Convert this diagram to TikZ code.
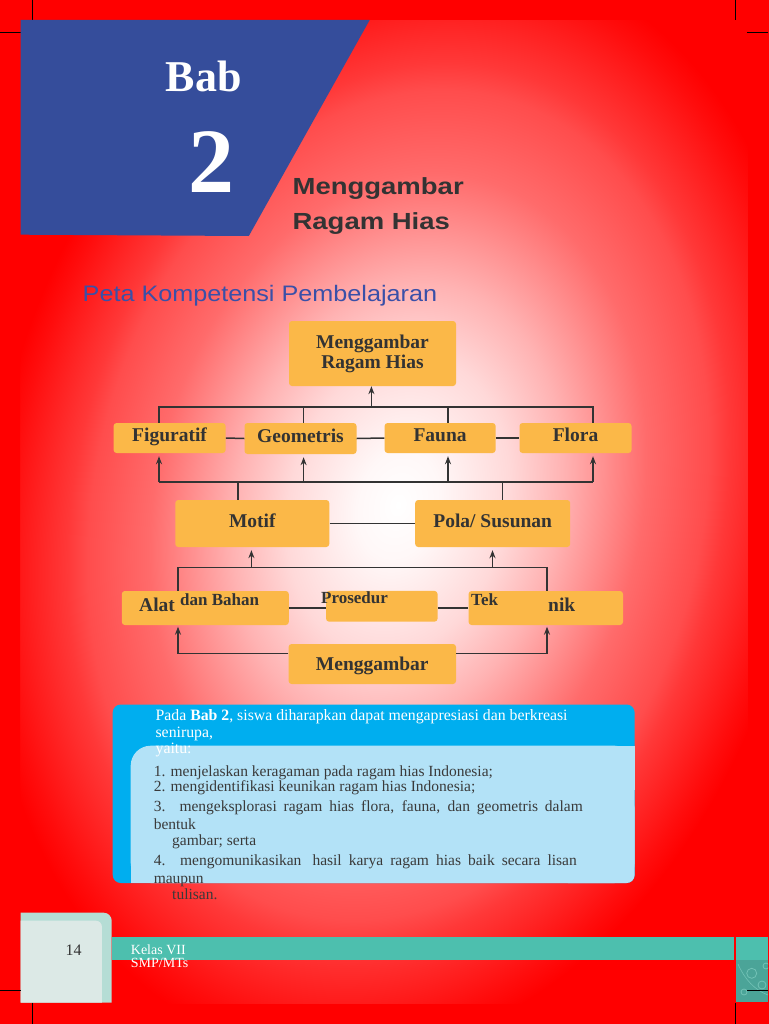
\documentclass[tikz,border=0pt]{standalone}
\usepackage{fontspec}
\setmainfont{Liberation Serif}
\newfontfamily\hsans[FakeStretch=1.125]{Liberation Sans}
\newfontfamily\tsans[FakeStretch=1.18]{Liberation Sans}
\usetikzlibrary{arrows.meta}
\definecolor{boxorange}{HTML}{FBB848}
\definecolor{txtdark}{HTML}{333333}
\definecolor{linedark}{HTML}{333333}
\definecolor{babblue}{HTML}{354D9B}
\definecolor{headblue}{HTML}{3A50A8}
\definecolor{infoblue}{HTML}{00AEEF}
\definecolor{infolight}{HTML}{B3E2F7}
\definecolor{infotext}{HTML}{3A3A3A}
\definecolor{footlight}{HTML}{DCE9E6}
\definecolor{footborder}{HTML}{B5DDD5}
\definecolor{teal}{HTML}{4DBFAE}
\definecolor{tealdark}{HTML}{4BA498}
\definecolor{tealpat}{HTML}{72C2B6}
\pgfdeclareradialshading{glow}{\pgfpoint{0bp}{0bp}}{color(0bp)=(white); color(2.5bp)=(red!3); color(6.75bp)=(red!15); color(10bp)=(red!30); color(15bp)=(red!58); color(18.75bp)=(red!70); color(20bp)=(red!78); color(23.75bp)=(red!95); color(25bp)=(red); color(50bp)=(red)}
\tikzset{
  obox/.style={fill=boxorange, rounded corners=3pt, inner sep=0pt, font=\fontsize{19.5}{20}\selectfont\bfseries, text=txtdark},
  twobox/.style={obox, align=center},
  onebox/.style={obox, text height=13pt, text depth=5.5pt},
  link/.style={draw=linedark, line width=1.5pt},
  arr/.style={link, -{Stealth[length=8pt,width=6pt]}},
  btxt/.style={font=\fontsize{19.5}{20}\selectfont\bfseries, text=txtdark, inner sep=0pt, anchor=base west},
  stxt/.style={font=\fontsize{17}{17}\selectfont\bfseries, text=txtdark, inner sep=0pt, anchor=base west},
  info/.style={font=\fontsize{15.5}{16}\selectfont, text=infotext, inner sep=0pt, anchor=base west},
  infow/.style={font=\fontsize{15.8}{16}\selectfont, text=white, inner sep=0pt, anchor=base west},
  crop/.style={draw=black, line width=0.8pt},
}
\begin{document}
\begin{tikzpicture}[x=1pt,y=-1pt]
\useasboundingbox (0,0) rectangle (768,1024);
% background
\fill[red] (0,0) rectangle (768,1024);
\begin{scope}[transform canvas={rotate around={-13:(398,505)}}]
\shade[shading=glow] (398,505) ellipse [x radius=405pt, y radius=560pt];
\end{scope}
\fill[red, even odd rule] (-5,-5) rectangle (773,1029) (20,20) rectangle (748,1004);
% crop marks
\draw[crop] (32.8,0) -- (32.8,20);
\draw[crop] (0,32.3) -- (20.6,32.3);
\draw[crop] (735.6,0) -- (735.6,20);
\draw[crop] (746.8,32.3) -- (768,32.3);
% chapter block
\fill[babblue] (20.6,20) -- (369.7,20) -- (248.8,236) -- (20.6,234.7) -- cycle;
\node[font=\fontsize{44}{44}\selectfont\bfseries, text=white, anchor=base, inner sep=0pt] (bab) at (203.8,91.7) {Bab};
\node[font=\fontsize{92}{92}\selectfont\bfseries, text=white, anchor=base, inner sep=0pt] (num) at (211,192.7) {2};
\node[font=\tsans\bfseries\fontsize{23.3}{24}\selectfont, text=txtdark, anchor=base west, inner sep=0pt] (t1) at (292.4,195) {Menggambar};
\node[font=\tsans\bfseries\fontsize{23.3}{24}\selectfont, text=txtdark, anchor=base west, inner sep=0pt] (t2) at (292.4,229.3) {Ragam Hias};
\node[font=\hsans\fontsize{22.4}{23}\selectfont, text=headblue, anchor=base west, inner sep=0pt] (peta) at (82.5,301) {Peta Kompetensi Pembelajaran};
% boxes
\node[twobox, minimum width=167pt, minimum height=65pt] (top) at (372.5,353.5) {Menggambar\\Ragam Hias};
\node[onebox, minimum width=112pt, minimum height=30pt] (fig) at (169.6,438) {Figuratif};
\node[onebox, minimum width=112pt, minimum height=31pt] (geo) at (300.5,438.5) {Geometris};
\node[onebox, minimum width=111pt, minimum height=30pt] (fau) at (440.1,438) {Fauna};
\node[onebox, minimum width=112pt, minimum height=30pt] (flo) at (575.5,438) {Flora};
\node[onebox, minimum width=154pt, minimum height=47pt] (motif) at (252.3,523.5) {Motif};
\node[onebox, minimum width=155pt, minimum height=47pt] (pola) at (492.7,523.5) {Pola/ Susunan};
\node[obox, minimum width=167pt, minimum height=34pt] (alat) at (205.3,608) {};
\node[obox, minimum width=111.5pt, minimum height=30.7pt] (pros) at (381.8,606.3) {};
\node[obox, minimum width=154.4pt, minimum height=34pt] (tek) at (545.8,608) {};
\node[obox, text height=13.5pt, text depth=1pt, minimum width=167.4pt, minimum height=40pt] (meng) at (372.3,664) {Menggambar};
% texts in lower boxes
\node[btxt] (alatA) at (139,611) {Alat};
\node[stxt] (alatB) at (180,605) {dan Bahan};
\node[stxt] (prosT) at (321,603) {Prosedur};
\node[stxt] (tekA) at (471,605) {Tek};
\node[btxt] (tekB) at (548,611) {nik};
% top bracket
\coordinate (ta) at (159,407);
\coordinate (tb) at (303.6,407);
\coordinate (tc) at (448,407);
\coordinate (td) at (593,407);
\coordinate (tm) at (371.4,407);
\draw[link] (ta |- fig.north) -- (ta) -- (td) -- (td |- flo.north);
\draw[link] (tb) -- (tb |- geo.north);
\draw[link] (tc) -- (tc |- fau.north);
\draw[arr] (tm) -- (tm |- top.south);
% row links
\draw[link] (fig.east) -- (geo.west);
\draw[link] (geo.east) -- (fau.west);
\draw[link] (fau.east) -- (flo.west);
% second bracket
\coordinate (ba) at (159,482);
\coordinate (bb) at (303.6,482);
\coordinate (bc) at (448,482);
\coordinate (bd) at (593,482);
\coordinate (bm1) at (238,482);
\coordinate (bm2) at (502.5,482);
\draw[link] (ba) -- (bd);
\draw[arr, shorten >=3pt] (ba) -- (ba |- fig.south);
\draw[arr, shorten >=3pt] (bb) -- (bb |- geo.south);
\draw[arr, shorten >=3pt] (bc) -- (bc |- fau.south);
\draw[arr, shorten >=3pt] (bd) -- (bd |- flo.south);
\draw[link] (bm1) -- (bm1 |- motif.north);
\draw[link] (bm2) -- (bm2 |- pola.north);
\draw[link] (motif.east) -- (pola.west);
% third bracket
\coordinate (la) at (178,567.7);
\coordinate (lb) at (547,567.7);
\coordinate (lm1) at (251.4,567.7);
\coordinate (lm2) at (492.5,567.7);
\draw[link] (la |- alat.north) -- (la) -- (lb) -- (lb |- tek.north);
\draw[arr, shorten >=3pt] (lm1) -- (lm1 |- motif.south);
\draw[arr, shorten >=3pt] (lm2) -- (lm2 |- pola.south);
\draw[link] (alat.east) -- (alat.east -| pros.west);
\draw[link] (alat.east -| pros.east) -- (tek.west);
% bottom
\coordinate (ma) at (178,653.3);
\coordinate (mb) at (547,653.3);
\draw[arr, shorten >=1.5pt] (meng.west |- ma) -- (ma) -- (ma |- alat.south);
\draw[arr, shorten >=1.5pt] (meng.east |- mb) -- (mb) -- (mb |- tek.south);
% info box
\fill[infoblue, rounded corners=8pt] (112.7,704.5) rectangle (634.6,883);
\fill[infolight, rounded corners=20pt] (130.7,745.7) rectangle (634.6,883);
\fill[infolight] (600,745.7) rectangle (634.6,790);
\fill[infolight] (130.7,840) rectangle (170,883);
\fill[infolight, rounded corners=8pt] (560,800) rectangle (634.6,883);
\node[infow] (p1) at (155.4,720.7) {Pada \textbf{Bab 2}, siswa diharapkan dapat mengapresiasi dan berkreasi};
\node[infow] (p2) at (155.4,737.7) {senirupa,};
\node[infow] (p3) at (155.4,753.3) {yaitu:};
\node[info] (l1) at (153.6,776) {1. menjelaskan keragaman pada ragam hias Indonesia;};
\node[info] (l2) at (153.6,791.7) {2. mengidentifikasi keunikan ragam hias Indonesia;};
\node[info] (l3) at (153.6,811.7) {\makebox[429pt][s]{3. mengeksplorasi ragam hias flora, fauna, dan geometris dalam}};
\node[info] (l3b) at (153.6,829) {bentuk};
\node[info] (l3c) at (172,845.7) {gambar; serta};
\node[info] (l4) at (153.6,865.7) {\makebox[423pt][s]{4. mengomunikasikan\hspace{4pt} hasil karya ragam hias baik secara lisan}};
\node[info] (l4b) at (153.6,883) {maupun};
\node[info] (l4c) at (172,899) {tulisan.};
% footer
\fill[footborder] (20.6,1002.7) -- (20.6,912.7) -- (103.7,912.7) .. controls (108.1,912.7) and (111.7,916.3) .. (111.7,920.7) -- (111.7,1002.7) -- cycle;
\fill[footlight] (20.6,1002.7) -- (20.6,920.7) -- (96,920.7) .. controls (99.2,920.7) and (101.9,923.4) .. (101.9,926.7) -- (101.9,1002.7) -- cycle;
\fill[teal] (111.7,937.3) rectangle (734.3,960);
\fill[teal] (735.7,936.7) rectangle (768,960);
\fill[tealdark] (735.7,960) rectangle (768,1001.7);
\begin{scope}
\clip (735.7,960) rectangle (768,1001.7);
\draw[tealpat, line width=0.8pt] (751.7,973.3) circle (5pt);
\draw[tealpat, line width=0.8pt] (762,985) circle (4pt);
\draw[tealpat, line width=0.8pt] (744,992) circle (3pt);
\draw[tealpat, line width=0.8pt] (766,966) circle (3pt);
\draw[tealpat, line width=0.6pt] (738,964) .. controls (745,980) and (755,990) .. (768,995);
\end{scope}
\node[font=\fontsize{16}{16}\selectfont, text=txtdark, anchor=base, inner sep=0pt] (pg) at (73.5,955) {14};
\node[font=\fontsize{14}{14}\selectfont, text=white, anchor=base west, inner sep=0pt] (k1) at (130.7,954.3) {Kelas VII};
\node[font=\fontsize{14}{14}\selectfont, text=white, anchor=base west, inner sep=0pt] (k2) at (130.7,967.7) {SMP/MTs};
% bottom crop marks
\draw[crop] (0,990.7) -- (20.6,990.7);
\draw[crop] (32.8,1002.7) -- (32.8,1024);
\draw[crop] (746.8,990.7) -- (768,990.7);
\draw[crop] (735.6,1002.7) -- (735.6,1024);
\end{tikzpicture}
\end{document}
